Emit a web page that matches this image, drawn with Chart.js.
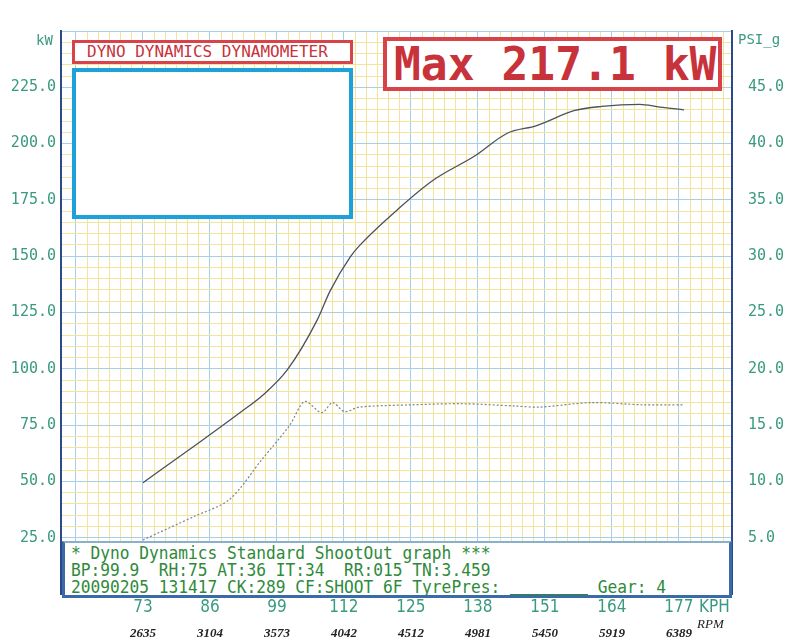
<!DOCTYPE html>
<html><head><meta charset="utf-8">
<script src="https://cdn.jsdelivr.net/npm/chart.js@4"></script>
<style>
body{margin:0;background:#fff;width:799px;height:638px;overflow:hidden;position:relative;font-family:"DejaVu Sans Mono",monospace}
#c{position:absolute;left:0;top:0}
.ov{position:absolute;box-sizing:border-box}
.sq{display:inline-block;transform-origin:left top}
</style></head><body>
<canvas id="c" width="799" height="638"></canvas>
<div class="ov" style="left:72px;top:40px;width:281px;height:24px;border:3px solid #d8434a;background:#fff;color:#c8323a;font-size:16px;line-height:18px;padding-left:12px;font-family:'DejaVu Sans Mono';white-space:nowrap">DYNO DYNAMICS DYNAMOMETER</div>
<div class="ov" style="left:72px;top:68px;width:281px;height:151px;border:4px solid #1ea0d8;background:#fff"></div>
<div class="ov" style="left:383px;top:37px;width:339px;height:54px;border:4px solid #d8434a;background:#fff;color:#c8323a;font-size:46px;line-height:46px;padding-left:7px;font-family:'DejaVu Sans Mono';font-weight:bold;white-space:nowrap"><span class="sq" style="transform:scaleX(0.97)">Max 217.1 kW</span></div>
<div class="ov" style="left:62px;top:541px;width:670px;height:57px;border:3px solid #3a6aa8;border-top:2px solid #8ab0d0;background:#fff;color:#2e8a3a;font-size:18px;line-height:17px;padding:1px 0 0 6px;font-family:'DejaVu Sans Mono';white-space:pre;overflow:hidden"><span class="sq" style="transform:scaleX(0.9)">* Dyno Dynamics Standard ShootOut graph ***
BP:99.9  RH:75 AT:36 IT:34  RR:015 TN:3.459
20090205 131417 CK:289 CF:SHOOT_6F TyrePres: <u>        </u> Gear: 4</span></div>
<div class="ov" style="left:36px;top:32px;color:#3a9a80;font-size:14px">kW</div>
<div class="ov" style="left:738px;top:31px;color:#3a9a80;font-size:14px">PSI_g</div>
<div class="ov" style="left:699px;top:596px;color:#3a9a80;font-size:17px;font-family:'DejaVu Sans Condensed'">KPH</div>
<div class="ov" style="left:697px;top:616px;color:#222;font-size:13px;font-style:italic;font-family:'Liberation Serif'">RPM</div>
<script>
const kphTicks=[73,86,99,112,125,138,151,164,177];
const rpmLabels=['2635','3104','3573','4042','4512','4981','5450','5919','6389'];
const powerKph=[73,82.7,91.8,96.3,101,106.8,109.3,113.2,115.1,122.9,129.3,137.6,143.6,149.4,156.8,162,169.4,173.3,178];
const powerKW=[49.4,65.3,80.5,88.4,99.5,121.6,134.5,149.6,154.9,171.7,183.7,194.8,204.5,208,214.7,216.5,217.4,216.2,215];
const boostKph=[73,83,89.8,96,101.5,104.4,107.7,109.8,112.1,115,125,135,145,150,160,170,178];
const boostPsi=[4.8,6.9,8.4,11.9,15.0,17.1,16.1,17.0,16.2,16.6,16.8,16.9,16.7,16.6,17.0,16.8,16.8];
const yLeftTicks=[25,50,75,100,125,150,175,200,225];
const yRightTicks=[5,10,15,20,25,30,35,40,45];

const XMIN=57.1,XMAX=187.3;
const xMinor=[];for(let v=60;v<=XMAX;v+=13/6)xMinor.push(+v.toFixed(4));
const yMinor=[];for(let v=0;v<=250;v+=5)yMinor.push(v);
const isMajX=v=>Math.abs(((v-60)/13)-Math.round((v-60)/13))<1e-3;
const tickFont={family:'DejaVu Sans Mono',size:15};
new Chart(document.getElementById('c'),{
type:'line',
data:{datasets:[
{data:powerKph.map((x,i)=>({x,y:powerKW[i]})),borderColor:'#4a5260',borderWidth:1.3,pointRadius:0,cubicInterpolationMode:'monotone',yAxisID:'y'},
{data:boostKph.map((x,i)=>({x,y:boostPsi[i]})),borderColor:'#7a8494',borderWidth:1.2,borderDash:[2,2],pointRadius:0,tension:0.3,yAxisID:'y1'}
]},
options:{responsive:false,animation:false,
layout:{padding:{top:31,left:0,right:0,bottom:0}},
plugins:{legend:{display:false},tooltip:{enabled:false}},
scales:{
x:{type:'linear',min:XMIN,max:XMAX,position:'bottom',
afterBuildTicks:s=>{s.ticks=xMinor.map(v=>({value:v}))},
afterFit:s=>{s.height=24},
grid:{color:c=>isMajX(c.tick.value)?'#a8cfe6':'#f2e49a',lineWidth:1,drawTicks:false},
border:{color:'#2a4a8a',width:2},
ticks:{autoSkip:false,maxRotation:0,padding:3,color:'#3a9a80',font:{family:'DejaVu Sans Condensed',size:17},
callback:v=>{const i=kphTicks.findIndex(k=>Math.abs(k-v)<1e-3);return i>=0?String(kphTicks[i]):''}}},
x2:{type:'linear',min:XMIN,max:XMAX,position:'bottom',
afterBuildTicks:s=>{s.ticks=kphTicks.map(v=>({value:v}))},
afterFit:s=>{s.height=20},
grid:{display:false},border:{display:false},
ticks:{autoSkip:false,maxRotation:0,padding:0,color:'#222',font:{family:'Liberation Serif',size:13,style:'italic',weight:'bold'},
callback:(v,i)=>rpmLabels[i]}},
y:{min:0,max:250,position:'left',
afterBuildTicks:s=>{s.ticks=yMinor.map(v=>({value:v}))},
afterFit:s=>{s.width=61},
grid:{color:c=>c.tick.value%25===0?'#a8cfe6':'#f2e49a',drawTicks:false},
border:{color:'#2a4a8a',width:2},
ticks:{autoSkip:false,padding:5,color:'#3a9a80',font:tickFont,
callback:v=>yLeftTicks.includes(v)?v.toFixed(1):''}},
y1:{min:0,max:50,position:'right',
afterBuildTicks:s=>{s.ticks=yRightTicks.map(v=>({value:v}))},
afterFit:s=>{s.width=67},
grid:{display:false},
border:{color:'#2a4a8a',width:2},
ticks:{autoSkip:false,padding:8,color:'#3a9a80',font:tickFont,callback:v=>v.toFixed(1)}}
}}});
</script></body></html>
